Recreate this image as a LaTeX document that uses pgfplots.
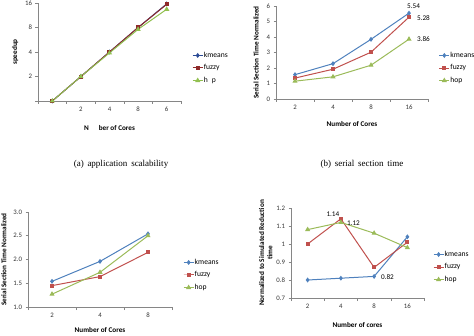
\documentclass[border=0pt]{standalone}
\usepackage{pgfplots}
\pgfplotsset{compat=1.18}
\usepackage{fontspec}
\setmainfont{Carlito}
\newfontfamily\capfont{Liberation Serif}
\definecolor{kA}{HTML}{2A4A95}
\definecolor{fA}{HTML}{8E2A2A}
\definecolor{hA}{HTML}{92C050}
\definecolor{kB}{HTML}{4F81BD}
\definecolor{fB}{HTML}{C0504D}
\definecolor{hB}{HTML}{9BBB59}
\definecolor{axg}{HTML}{868686}
\pgfplotsset{
  xl/.style={
    scale only axis, axis lines*=left, tick align=outside,
    axis line style={axg, line width=0.5pt},
    tick style={axg, line width=0.5pt},
    major tick length=2.5pt, minor tick length=3pt,
    major x tick style={draw=none},
    tick label style={font=\fontsize{6.8}{7.5}\selectfont, text=black!80},
    /pgf/number format/assume math mode=true,
    label style={font=\bfseries\fontsize{7.2}{8.2}\selectfont},
    legend style={draw=none, fill=none, font=\fontsize{7.6}{8}\selectfont, row sep=4.6pt, column sep=0pt, anchor=west, inner sep=0pt, nodes={inner sep=0.6pt}},
    legend cell align=left,
    legend image code/.code={\draw[mark repeat=2,mark phase=2,##1] plot coordinates {(0pt,0pt) (5pt,0pt) (10pt,0pt)};},
    every axis plot/.append style={line width=1pt, mark size=1.7pt},
    clip=false,
  },
  ks/.style={mark=diamond*},
  fs/.style={mark=square*, mark size=1.5pt},
  hs/.style={mark=triangle*, mark size=2pt},
}
\begin{document}
\begin{tikzpicture}
\useasboundingbox (0,0) rectangle (474pt,335pt);
% (a)
\begin{axis}[xl, at={(38pt,234pt)}, anchor=south west, width=143pt, height=98pt,
  xmin=-0.5, xmax=4.5, xtick={0,1,2,3,4}, xticklabels={,2,4,8,6},
  minor xtick={-0.5,0.5,1.5,2.5,3.5,4.5},
  ymode=log, log basis y=2, ymin=1, ymax=16, ytick={1,2,4,8,16}, yticklabels={,2,4,8,16},
  ylabel={speedup}, ylabel style={at={(axis description cs:-0.16,0.5)}, anchor=center},
  xlabel={N\hspace{10pt}ber of Cores}, xlabel style={at={(axis description cs:0.5,-0.276)}, anchor=center},
  legend style={at={(axis description cs:1.077,0.337)}}]
\addplot[kA, ks] coordinates {(0,1) (1,2) (2,4) (3,8) (4,15.6)};
\addplot[fA, fs] coordinates {(0,1) (1,2) (2,4) (3,8) (4,15.4)};
\addplot[hA, hs] coordinates {(0,1) (1,2) (2,3.9) (3,7.6) (4,13.4)};
\legend{kmeans,fuzzy,h\hspace{4pt}p}
\end{axis}
% (b)
\begin{axis}[xl, at={(276pt,236pt)}, anchor=south west, width=152pt, height=93pt,
  xmin=-0.5, xmax=3.5, xtick={0,1,2,3}, xticklabels={2,4,8,16},
  minor xtick={-0.5,0.5,1.5,2.5,3.5},
  ymin=0, ymax=6, ytick={0,1,...,6},
  ylabel={Serial Section Time Normalized}, ylabel style={at={(axis description cs:-0.13,0.5)}, anchor=center},
  xlabel={Number of Cores}, xlabel style={at={(axis description cs:0.5,-0.27)}, anchor=center},
  legend style={at={(axis description cs:1.07,0.333)}}]
\addplot[kB, ks] coordinates {(0,1.57) (1,2.28) (2,3.85) (3,5.54)};
\addplot[fB, fs] coordinates {(0,1.35) (1,1.92) (2,3.02) (3,5.28)};
\addplot[hB, hs] coordinates {(0,1.15) (1,1.43) (2,2.18) (3,3.86)};
\legend{kmeans,fuzzy,hop}
\node[font=\fontsize{7.2}{8}\selectfont] at (axis cs:3.12,6.0) {5.54};
\node[font=\fontsize{7.2}{8}\selectfont, anchor=west] at (axis cs:3.12,5.2) {5.28};
\node[font=\fontsize{7.2}{8}\selectfont, anchor=west] at (axis cs:3.12,3.86) {3.86};
\end{axis}
% (c)
\begin{axis}[xl, at={(28pt,28pt)}, anchor=south west, width=144pt, height=95pt,
  xmin=-0.5, xmax=2.5, xtick={0,1,2}, xticklabels={2,4,8},
  minor xtick={-0.5,0.5,1.5,2.5},
  ymin=1, ymax=3, ytick={1,1.5,...,3},
  yticklabel style={/pgf/number format/.cd, fixed, fixed zerofill, precision=1},
  ylabel={Serial Section Time Normalized}, ylabel style={at={(axis description cs:-0.167,0.5)}, anchor=center},
  xlabel={Number of Cores}, xlabel style={at={(axis description cs:0.5,-0.245)}, anchor=center},
  legend style={at={(axis description cs:1.076,0.337)}}]
\addplot[kB, ks] coordinates {(0,1.54) (1,1.96) (2,2.54)};
\addplot[fB, fs] coordinates {(0,1.45) (1,1.64) (2,2.15)};
\addplot[hB, hs] coordinates {(0,1.27) (1,1.73) (2,2.50)};
\legend{kmeans,fuzzy,hop}
\end{axis}
% (d)
\begin{axis}[xl, at={(291pt,37pt)}, anchor=south west, width=133pt, height=90pt,
  xmin=-0.5, xmax=3.5, xtick={0,1,2,3}, xticklabels={2,4,8,16},
  minor xtick={-0.5,0.5,1.5,2.5,3.5},
  ymin=0.7, ymax=1.2, ytick={0.7,0.8,0.9,1,1.1,1.2}, yticklabels={0.7,0.8,0.9,1,1.1,1.2},
  ylabel={Normalized to Simulated Reduction\\time}, ylabel style={at={(axis description cs:-0.19,0.5)}, anchor=center, align=center},
  xlabel={Number of cores}, xlabel style={at={(axis description cs:0.5,-0.30)}, anchor=center},
  legend style={at={(axis description cs:1.067,0.344)}}]
\addplot[kB, ks] coordinates {(0,0.80) (1,0.81) (2,0.82) (3,1.04)};
\addplot[fB, fs] coordinates {(0,1.00) (1,1.14) (2,0.87) (3,1.01)};
\addplot[hB, hs] coordinates {(0,1.08) (1,1.12) (2,1.06) (3,0.98)};
\legend{kmeans,fuzzy,hop}
\node[font=\fontsize{7.2}{8}\selectfont] at (axis cs:0.76,1.167) {1.14};
\node[font=\fontsize{7.2}{8}\selectfont] at (axis cs:1.38,1.117) {1.12};
\node[font=\fontsize{7.2}{8}\selectfont] at (axis cs:2.4,0.815) {0.82};
\end{axis}
\node[font=\capfont\fontsize{9}{10}\selectfont] at (121pt,171pt) {(a)\, application\, scalability};
\node[font=\capfont\fontsize{9}{10}\selectfont] at (362pt,171pt) {(b)\, serial\, section\, time};
\end{tikzpicture}
\end{document}
